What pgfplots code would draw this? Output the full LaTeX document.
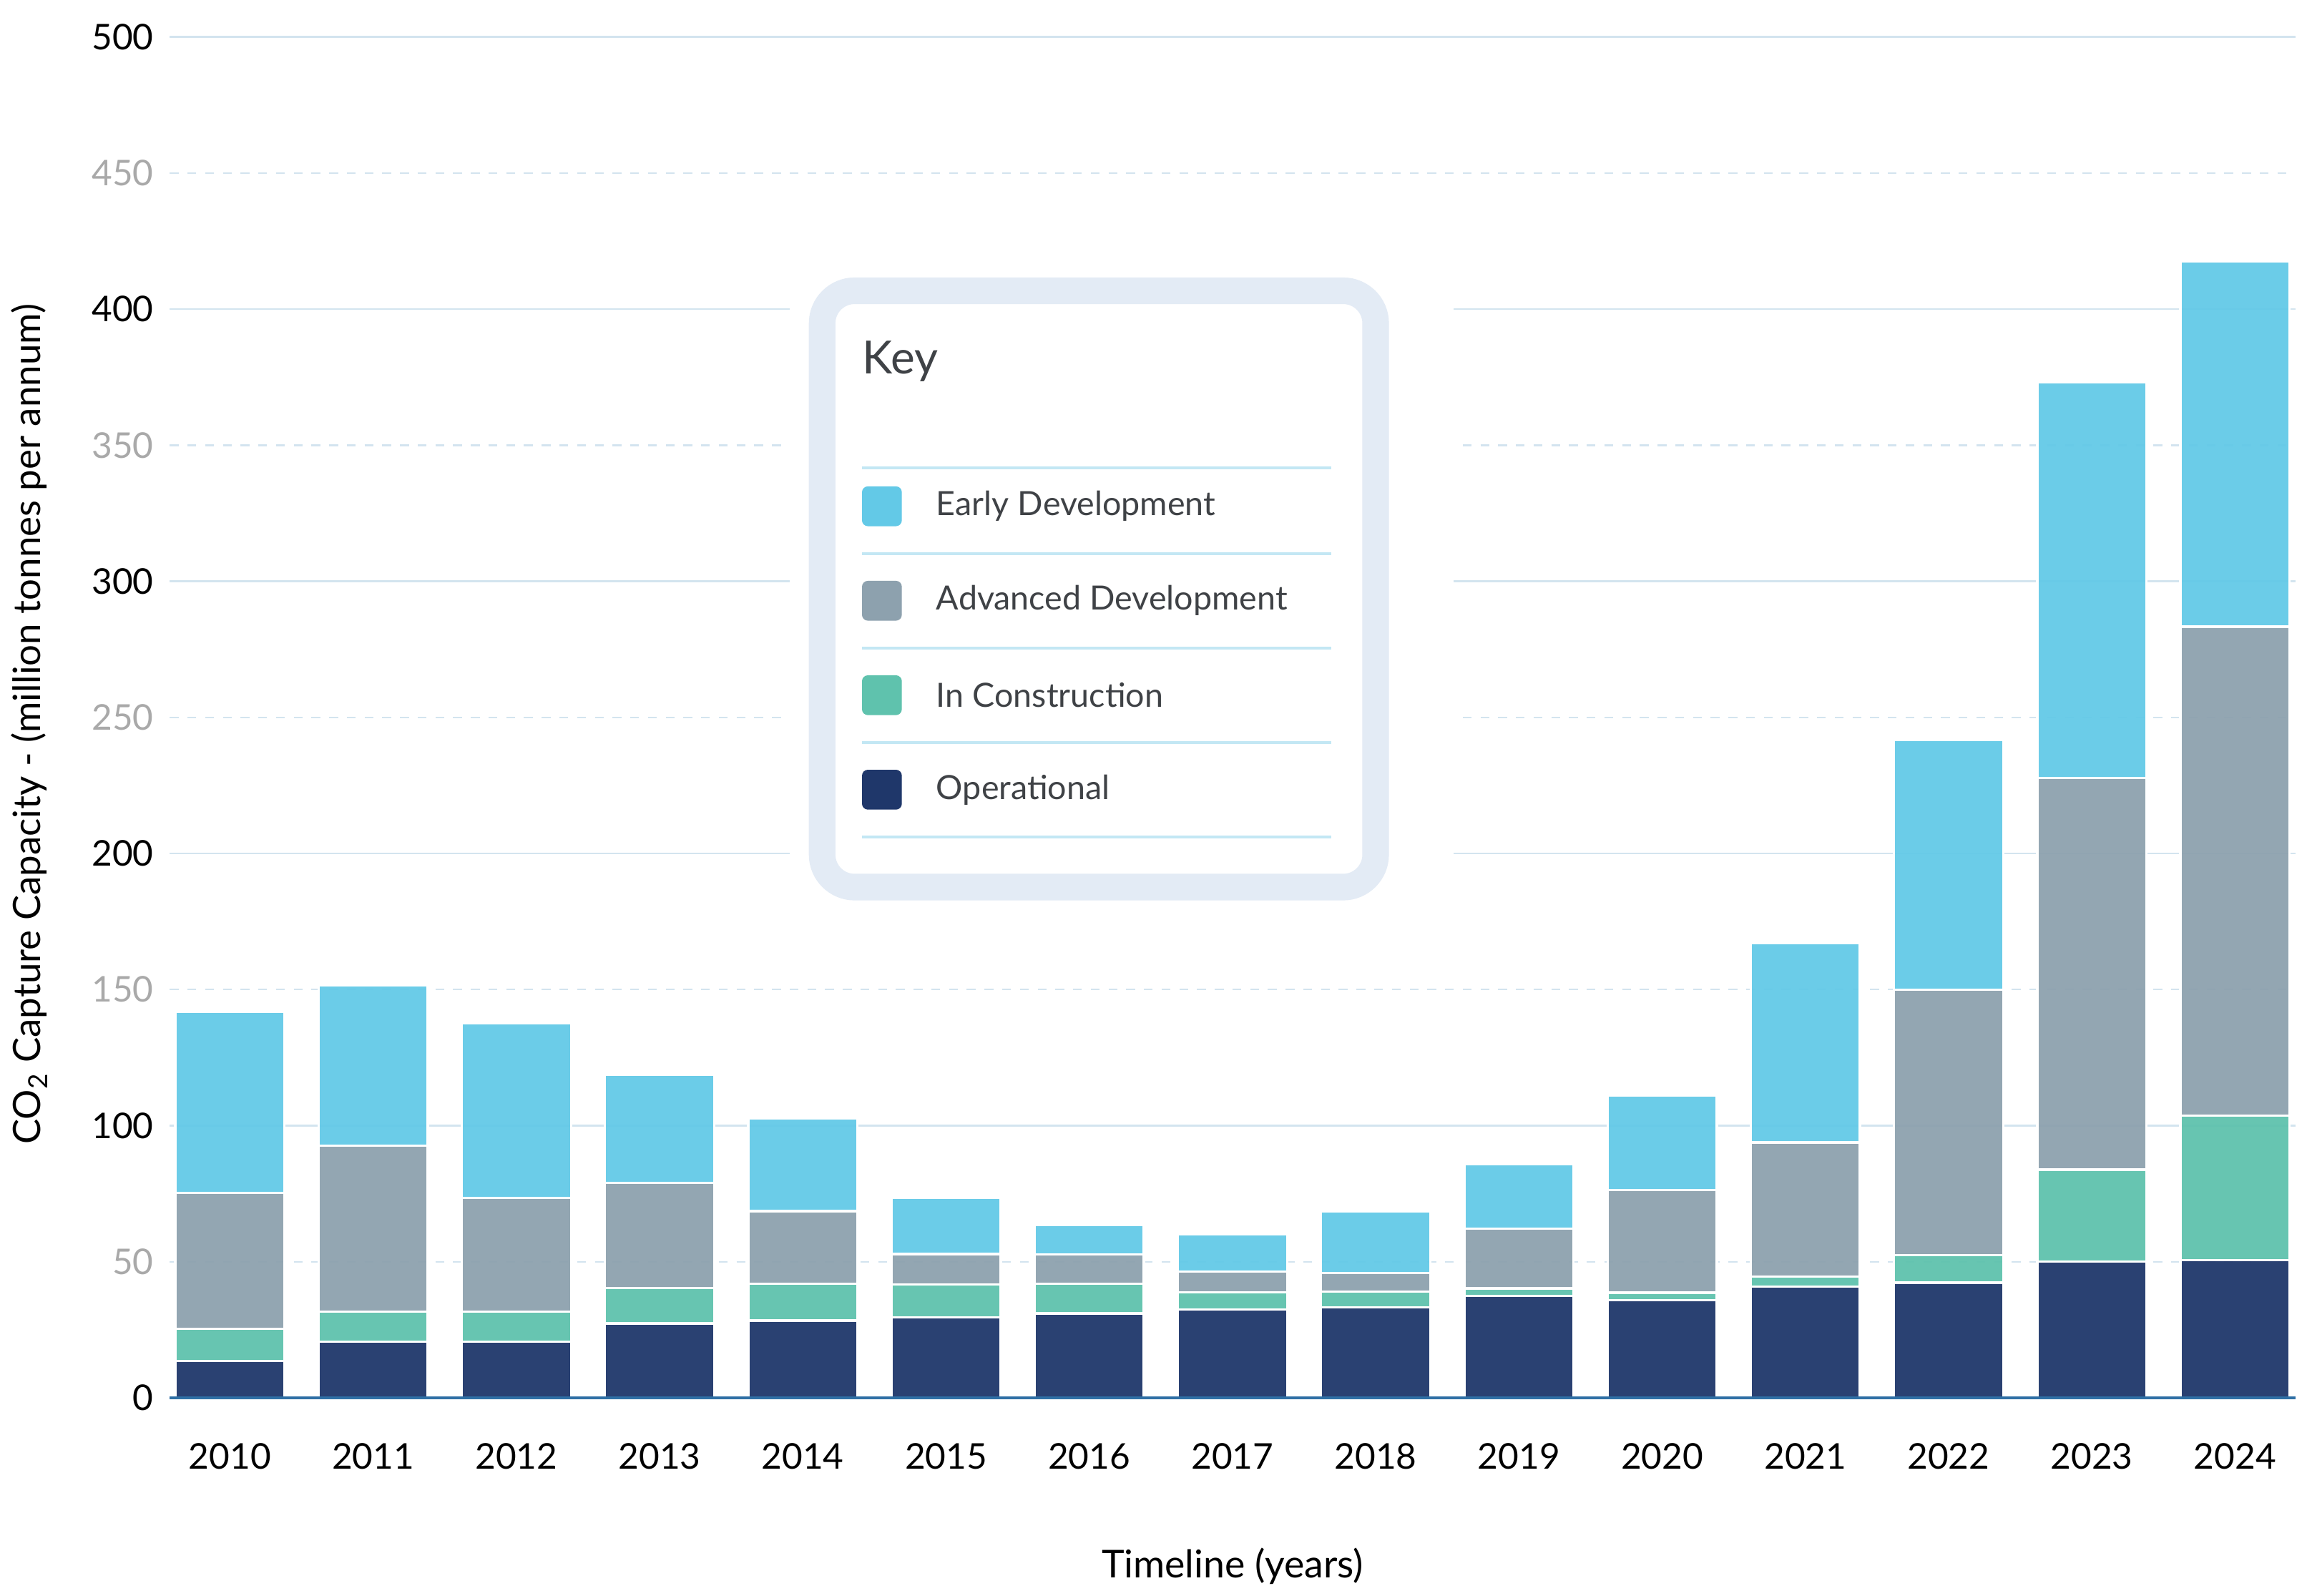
\documentclass[border=0pt]{standalone}
\usepackage{fontspec}
\setmainfont{Lato}
\usepackage{pgfplots}
\usepackage{pgfplotstable}
\pgfplotsset{compat=1.18}

\definecolor{edblue}{HTML}{63C9E7}
\definecolor{adgray}{HTML}{8DA1AE}
\definecolor{icgreen}{HTML}{5FC2AD}
\definecolor{opnavy}{HTML}{1F376A}
\definecolor{gridblue}{HTML}{D3E4EF}
\definecolor{axisblue}{HTML}{2F6FA5}
\definecolor{tickgray}{HTML}{A9A9A9}
\definecolor{keyborder}{HTML}{E3EBF5}
\definecolor{keyline}{HTML}{C3E7F4}
\definecolor{keytext}{HTML}{3F4246}

% capacity per stage, million tonnes per annum (x = year - 2010)
\pgfplotstableread{
x  op   ic   ad    ed
0  13.5 11.8 50.0  66.4
1  20.6 11.0 61.1  58.9
2  20.6 11.0 41.8  64.1
3  27.3 13.0 38.6  39.9
4  28.4 13.6 26.6  34.0
5  29.5 12.1 11.2  20.8
6  31.0 11.0 10.6  10.9
7  32.5  6.2  7.6  13.8
8  33.2  5.9  6.7  22.6
9  37.4  2.8 22.0  23.7
10 35.8  2.8 37.8  34.6
11 40.9  3.7 49.2  73.3
12 42.3 10.1 97.5  91.9
13 50.1 33.7 144.0 145.3
14 50.6 53.0 179.7 134.2
}\capdata

\begin{document}
\begin{tikzpicture}
\begin{axis}[
    name=ax,
    scale only axis,
    width=720pt, height=461pt,
    ybar stacked,
    bar width=37pt,
    xmin=-0.42, xmax=14.42,
    ymin=0, ymax=500,
    xtick={0,...,14},
    xticklabels={2010,2011,2012,2013,2014,2015,2016,2017,2018,2019,2020,2021,2022,2023,2024},
    ytick={0,100,...,500},
    extra y ticks={50,150,...,450},
    extra y tick style={
        grid=major,
        major grid style={color=gridblue, line width=0.6pt, dash pattern=on 3pt off 3pt},
        tick label style={text=tickgray},
    },
    ymajorgrids=true,
    major grid style={color=gridblue, line width=0.7pt},
    axis line style={draw=none},
    major tick length=0pt,
    tick label style={font=\fontsize{12}{14}\selectfont},
    /pgf/number format/assume math mode=true,
    yticklabel style={xshift=-2pt},
    xticklabel style={yshift=-12pt},
    xlabel={Timeline (years)},
    ylabel={CO\textsubscript{2} Capture Capacity - (million tonnes per annum)},
    xlabel style={font=\fontsize{13}{15}\selectfont, at={(axis description cs:0.5,-0.1236)}, anchor=center},
    ylabel style={font=\fontsize{12.8}{15}\selectfont, at={(axis description cs:-0.066,0.495)}, anchor=center},
    every axis plot/.append style={draw=white, line width=0.8pt, fill opacity=0.95},
]
\addplot[fill=opnavy] table[x=x, y=op] {\capdata};
\addplot[fill=icgreen] table[x=x, y=ic] {\capdata};
\addplot[fill=adgray] table[x=x, y=ad] {\capdata};
\addplot[fill=edblue] table[x=x, y=ed] {\capdata};
\end{axis}

\begin{scope}[shift={(ax.south west)}]
  % zero line
  \draw[axisblue, line width=1.1pt] (0pt,0pt) -- (720pt,0pt);
  % key panel
  \fill[white] (210pt,153.5pt) rectangle (435pt,398.5pt);
  \draw[keyborder, line width=9pt, fill=white, rounded corners=11pt]
       (221pt,173pt) rectangle (408.5pt,375pt);
  \node[anchor=base west, inner sep=0pt, text=keytext, font=\fontsize{15.5}{17}\selectfont]
       at (234.5pt,347pt) {Key};
  \foreach \yy in {315,286,254,222,190}
    \draw[keyline, line width=0.9pt] (234.5pt,\yy pt) -- (393.5pt,\yy pt);
  \foreach \yy/\cc/\tt in {302/edblue/Early Development,
                           270/adgray/Advanced Development,
                           238/icgreen/In Construction,
                           206/opnavy/Operational} {
    \fill[\cc, rounded corners=2pt] (234.5pt,\yy pt-6.75pt) rectangle ++(13.5pt,13.5pt);
    \node[anchor=west, inner sep=0pt, text=keytext, font=\fontsize{11.3}{13}\selectfont]
         at (259.5pt,\yy pt) {\tt};
  }
  % page margins as in the reference
  \path (-57.5pt,-67pt) rectangle (724pt,473.5pt);
\end{scope}
\end{tikzpicture}
\end{document}
